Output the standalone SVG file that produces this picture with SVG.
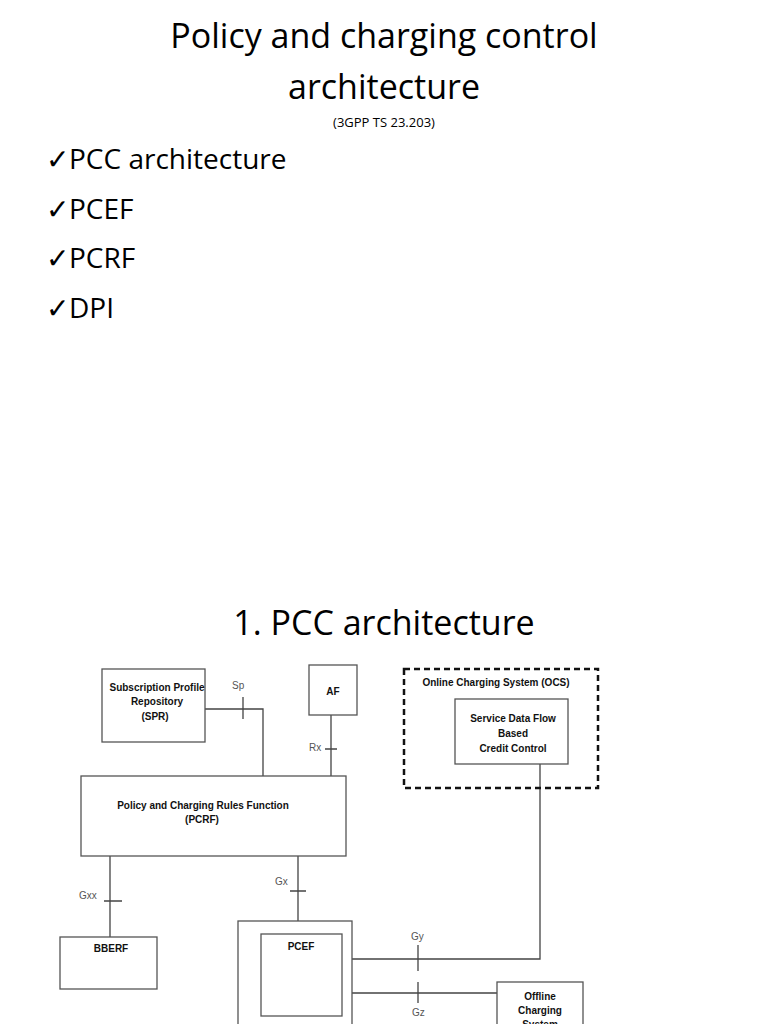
<svg xmlns="http://www.w3.org/2000/svg" width="768" height="1024" viewBox="0 0 768 1024">
<style>
.h{font-family:"Open Sans","Liberation Sans",sans-serif;fill:#000}
.b{fill:#fff;stroke:#555;stroke-width:1.3}
.l{fill:none;stroke:#444;stroke-width:1.3}
.bl{font-family:"Liberation Sans",Arial,sans-serif;font-weight:bold;font-size:10px;text-anchor:middle;fill:#111}
.lb{font-family:"Liberation Sans",Arial,sans-serif;font-size:10px;fill:#555}
</style>
<rect width="768" height="1024" fill="#fff"/>
<text class="h" x="384" y="48" font-size="34" text-anchor="middle">Policy and charging control</text>
<text class="h" x="384" y="99" font-size="34" text-anchor="middle">architecture</text>
<text class="h" x="384" y="127" font-size="13" text-anchor="middle">(3GPP TS 23.203)</text>
<g class="h" font-size="28">
<text x="46" y="169">✓PCC architecture</text>
<text x="46" y="219">✓PCEF</text>
<text x="46" y="268">✓PCRF</text>
<text x="46" y="318">✓DPI</text>
</g>
<text class="h" x="384" y="635" font-size="34" text-anchor="middle">1. PCC architecture</text>
<g id="connectors">
<path class="l" d="M205 709H263V776M243 697V719"/>
<path class="l" d="M331 715V776M325 749H337"/>
<path class="l" d="M110 856V937M104 901H122"/>
<path class="l" d="M298 856V934M290 891H306"/>
<path class="l" d="M342 959H540V764M418 945V971"/>
<path class="l" d="M352 993H497M418 982V1003"/>
<text class="lb" x="232" y="689">Sp</text>
<text class="lb" x="309" y="751">Rx</text>
<text class="lb" x="79" y="899">Gxx</text>
<text class="lb" x="275" y="885">Gx</text>
<text class="lb" x="411" y="940">Gy</text>
<text class="lb" x="412" y="1016">Gz</text>
</g>
<g id="spr"><rect class="b" x="102" y="669" width="103" height="73"/>
<text class="bl" x="157" y="691">Subscription Profile</text><text class="bl" x="157" y="705">Repository</text><text class="bl" x="155" y="720">(SPR)</text></g>
<g id="af"><rect class="b" x="309" y="665" width="48" height="50"/><text class="bl" x="333" y="695">AF</text></g>
<g id="ocs"><rect x="404" y="669" width="194" height="119" fill="none" stroke="#111" stroke-width="2.5" stroke-dasharray="6,4"/>
<text class="bl" x="496" y="686">Online Charging System (OCS)</text>
<rect class="b" x="455" y="699" width="113" height="65"/>
<text class="bl" x="513" y="722">Service Data Flow</text><text class="bl" x="513" y="737">Based</text><text class="bl" x="513" y="752">Credit Control</text></g>
<g id="pcrf"><rect class="b" x="81" y="776" width="265" height="80"/>
<text class="bl" x="203" y="809">Policy and Charging Rules Function</text><text class="bl" x="202" y="823">(PCRF)</text></g>
<g id="bberf"><rect class="b" x="60" y="937" width="97" height="52"/><text class="bl" x="111" y="952">BBERF</text></g>
<g id="gw"><rect class="b" x="238" y="921" width="114" height="110"/></g>
<g id="pcef"><rect class="b" x="261" y="934" width="81" height="82"/><text class="bl" x="301" y="950">PCEF</text></g>
<g id="ofcs"><rect class="b" x="497" y="982" width="86" height="50"/>
<text class="bl" x="540" y="1000">Offline</text><text class="bl" x="540" y="1014">Charging</text><text class="bl" x="540" y="1028">System</text></g>
</svg>
